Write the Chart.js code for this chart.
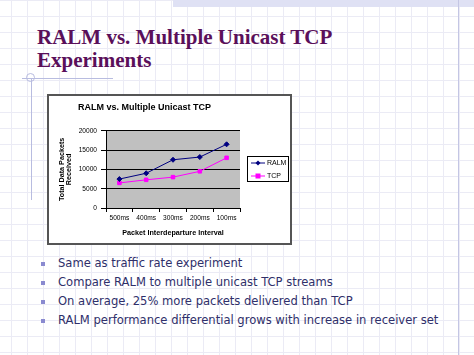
<!DOCTYPE html>
<html>
<head>
<meta charset="utf-8">
<script src="https://cdn.jsdelivr.net/npm/chart.js@4/dist/chart.umd.min.js"></script>
<style>
  html, body { margin: 0; padding: 0; }
  body {
    width: 474px; height: 355px; position: relative; overflow: hidden;
    background-color: #ffffff;
    background-image:
      linear-gradient(to right, #ebebf5 1px, transparent 1px),
      linear-gradient(to bottom, #ebebf5 1px, transparent 1px);
    background-size: 16px 16px;
    background-position: 11px 0px;
  }
  .topbar { position: absolute; left: 173px; top: 0; width: 301px; height: 7px; background: #dfe1f4; }
  .vline { position: absolute; left: 458px; top: 0; width: 1px; height: 355px; background: #c4c6e4; }
  .hdeco { position: absolute; left: 22px; top: 78px; width: 91px; height: 1px; background: #b8bce0; }
  .vdeco { position: absolute; left: 31px; top: 78px; width: 1px; height: 122px; background: #b8bce0; }
  .cdeco { position: absolute; left: 26px; top: 73px; width: 9px; height: 9px; border: 1px solid #b8bce0; border-radius: 50%; box-sizing: border-box; }
  .title { position: absolute; left: 37px; font-family: "Liberation Serif", "Times New Roman", serif; font-weight: bold; font-size: 21px; color: #5a0f5a; white-space: nowrap; line-height: 1; }
  .box { position: absolute; left: 47px; top: 94px; width: 245px; height: 151px; border: 2px solid #555; box-sizing: border-box; background: #fff; }
  .box canvas { position: absolute; left: 0; top: 0; }
  .b { position: absolute; left: 58px; font-family: "DejaVu Sans Condensed", "DejaVu Sans", sans-serif; font-size: 12.85px; color: #2f2f6a; white-space: nowrap; line-height: 1; }
  .sq { position: absolute; left: 41px; width: 4px; height: 4px; background: #8a8ad0; }
</style>
</head>
<body>
<div class="topbar"></div>
<div class="vline"></div>
<div class="hdeco"></div>
<div class="vdeco"></div>
<div class="cdeco"></div>
<div class="title" style="top:27px">RALM vs. Multiple Unicast TCP</div>
<div class="title" style="top:50px">Experiments</div>
<div class="box"><canvas id="c" width="241" height="147"></canvas></div>
<div id="bl"></div>
<script>
const chartTitle = "RALM vs. Multiple Unicast TCP";
const categories = ["500ms", "400ms", "300ms", "200ms", "100ms"];
const seriesNames = ["RALM", "TCP"];
const ralmValues = [7500, 9000, 12500, 13200, 16500];
const tcpValues = [6500, 7300, 8000, 9500, 13000];
const yTicks = [0, 5000, 10000, 15000, 20000];
const xAxisTitle = "Packet Interdeparture Interval";
const yAxisTitle = ["Total Data Packets", "Received"];
const bulletTexts = [
  "Same as traffic rate experiment",
  "Compare RALM to multiple unicast TCP streams",
  "On average, 25% more packets delivered than TCP",
  "RALM performance differential grows with increase in receiver set"
];

const bl = document.getElementById('bl');
const bulletTops = [257, 276, 295, 314];
bulletTexts.forEach((t, i) => {
  const d = document.createElement('div'); d.className = 'b'; d.style.top = bulletTops[i] + 'px'; d.textContent = t; bl.appendChild(d);
  const s = document.createElement('div'); s.className = 'sq'; s.style.top = (bulletTops[i] + 5) + 'px'; bl.appendChild(s);
});

const FONT = "'Liberation Sans', Arial, sans-serif";

const plotBg = {
  id: 'plotBg',
  beforeDraw(chart) {
    const {ctx, chartArea: a} = chart;
    ctx.save(); ctx.fillStyle = '#c0c0c0'; ctx.fillRect(a.left, a.top, a.right - a.left, a.bottom - a.top); ctx.restore();
  }
};
const customLegend = {
  id: 'customLegend',
  afterDraw(chart) {
    const ctx = chart.ctx;
    const x0 = 198.5, y0 = 60.5, w = 41, h = 25;
    ctx.save();
    ctx.strokeStyle = '#000'; ctx.lineWidth = 1; ctx.strokeRect(x0, y0, w, h);
    chart.data.datasets.forEach((ds, i) => {
      const y = 67 + i * 13;
      ctx.strokeStyle = ds.borderColor; ctx.lineWidth = 1;
      ctx.beginPath(); ctx.moveTo(202, y); ctx.lineTo(216, y); ctx.stroke();
      ctx.fillStyle = ds.pointBackgroundColor;
      if (ds.pointStyle === 'rect') { ctx.fillRect(206.5, y - 2.5, 5, 5); }
      else { ctx.beginPath(); ctx.moveTo(209, y - 2.5); ctx.lineTo(211.5, y); ctx.lineTo(209, y + 2.5); ctx.lineTo(206.5, y); ctx.closePath(); ctx.fill(); }
      ctx.fillStyle = '#000'; ctx.font = '7px ' + FONT; ctx.textBaseline = 'middle'; ctx.textAlign = 'left';
      ctx.fillText(ds.label, 218, y);
    });
    ctx.restore();
  }
};

new Chart(document.getElementById('c'), {
  type: 'line',
  data: {
    labels: categories,
    datasets: [
      { label: seriesNames[0], data: ralmValues, borderColor: '#000080', backgroundColor: '#000080', pointBackgroundColor: '#000080', pointBorderColor: '#000080', pointStyle: 'rectRot', pointRadius: 2.5, borderWidth: 1 },
      { label: seriesNames[1], data: tcpValues, borderColor: '#ff00ff', backgroundColor: '#ff00ff', pointBackgroundColor: '#ff00ff', pointBorderColor: '#ff00ff', pointStyle: 'rect', pointRadius: 2.5, borderWidth: 1 }
    ]
  },
  options: {
    responsive: false, animation: false, devicePixelRatio: 1,
    layout: { padding: { left: 0, right: 50, top: 0, bottom: 0 } },
    plugins: {
      legend: { display: false },
      tooltip: { enabled: false },
      title: { display: true, text: chartTitle, color: '#000', font: { family: FONT, size: 9, weight: 'bold' }, padding: { top: 6, bottom: 18 } }
    },
    scales: {
      x: {
        offset: true,
        grid: { display: true, drawOnChartArea: false, drawTicks: true, tickLength: 4, offset: true, color: '#000' },
        border: { color: '#000', width: 1 },
        ticks: { color: '#000', font: { family: FONT, size: 6.6 }, padding: 2, maxRotation: 0, autoSkip: false },
        title: { display: true, text: xAxisTitle, color: '#000', font: { family: FONT, size: 7.2, weight: 'bold' }, padding: { top: 0, bottom: 6 } },
        afterFit(s) { s.height = 35; }
      },
      y: {
        min: 0, max: 20000,
        afterBuildTicks(s) { s.ticks = yTicks.map(v => ({ value: v })); },
        grid: { color: '#000', tickLength: 5, drawTicks: true },
        border: { color: '#000', width: 1 },
        ticks: { color: '#000', font: { family: FONT, size: 6.6 }, padding: 4, callback: v => String(v) },
        title: { display: true, text: yAxisTitle, color: '#000', font: { family: FONT, size: 7.2, weight: 'bold', lineHeight: 1.0 }, padding: { top: 9, bottom: 0 } },
        afterFit(s) { s.width = 57; }
      }
    }
  },
  plugins: [plotBg, customLegend]
});
</script>
</body>
</html>
